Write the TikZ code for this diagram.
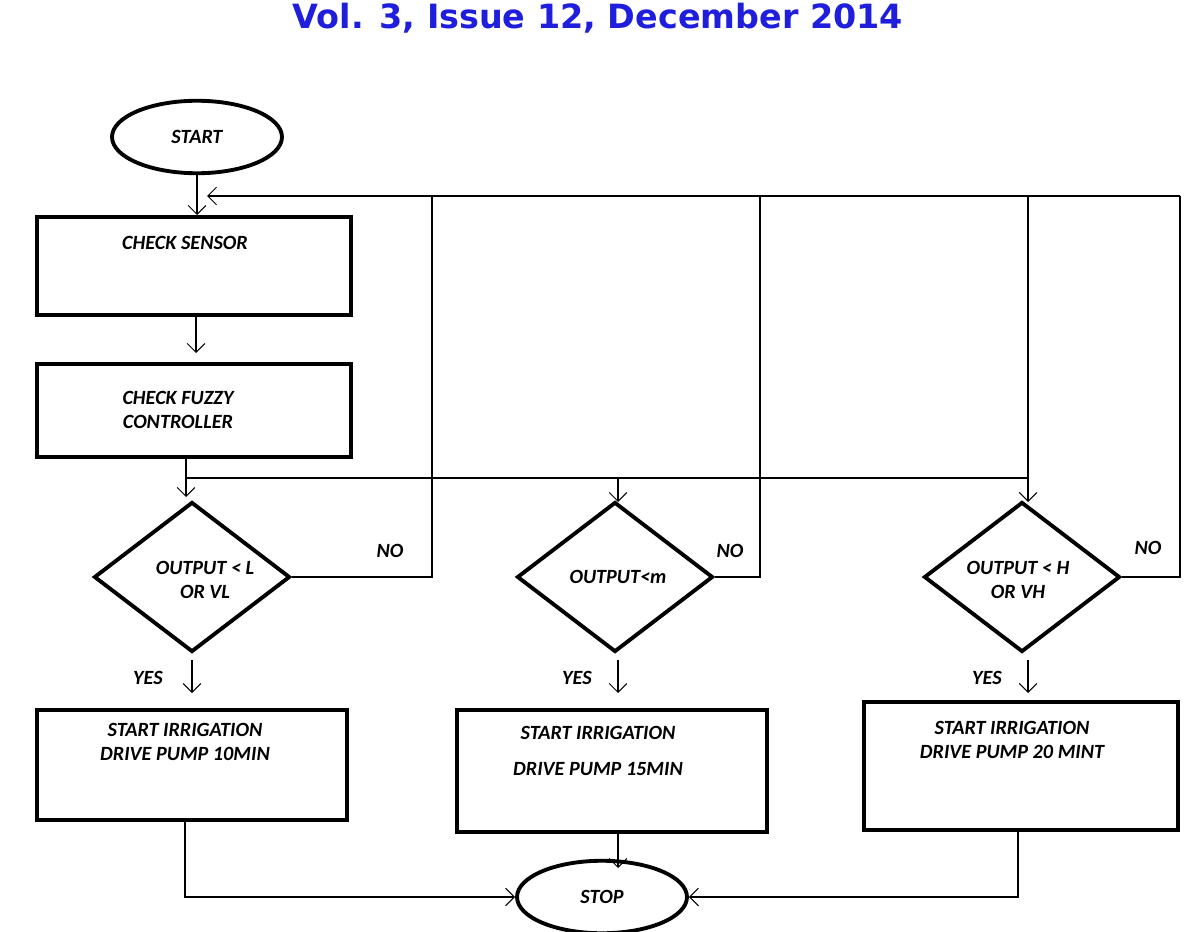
\documentclass[tikz,border=0pt]{standalone}
\usepackage{fontspec}
\setmainfont{Carlito}
\newfontfamily\headfont{DejaVu Sans}
\usetikzlibrary{shapes.geometric,arrows.meta}
\definecolor{headblue}{RGB}{30,30,220}
\tikzset{
	box/.style={draw=black, line width=2.2pt, rectangle, anchor=north west, inner sep=0pt},
	term/.style={draw=black, line width=2.2pt, ellipse, minimum width=3.4cm, minimum height=1.45cm, font=\fontsize{11.5}{13}\selectfont\bfseries\itshape},
	decide/.style={draw=black, line width=2.2pt, diamond, minimum width=3.92cm, minimum height=3cm, inner sep=0pt},
	lbl/.style={font=\fontsize{11.5}{14}\selectfont\bfseries\itshape, align=center},
	flow/.style={-{Straight Barb[length=5pt,width=10pt]}, line width=0.6pt},
	link/.style={line width=0.6pt},
}
\begin{document}
\begin{tikzpicture}[x=0.02cm, y=-0.02cm]
\useasboundingbox (0,0) rectangle (1196,932);
	\node[font=\headfont\fontsize{19}{21}\selectfont\bfseries, text=headblue] (head) at (598,18) {Vol. 3, Issue 12, December 2014};
	% terminals
	\node[term] (start) at (197,137) {START};
	\node[term] (stop) at (602,897) {STOP};
	% boxes
	\node[box, minimum width=6.28cm, minimum height=1.96cm] (sensor) at (35,215) {};
	\node[lbl] (sensortxt) at (185,243) {CHECK SENSOR};
	\node[box, minimum width=6.28cm, minimum height=1.86cm] (fuzzy) at (35,362) {};
	\node[lbl] (fuzzytxt) at (178,410) {CHECK FUZZY\\CONTROLLER};
	\node[box, minimum width=6.2cm, minimum height=2.2cm] (pumpa) at (35,708) {};
	\node[lbl] (pumpatxt) at (185,742) {START IRRIGATION\\DRIVE PUMP 10MIN};
	\node[box, minimum width=6.2cm, minimum height=2.44cm] (pumpb) at (455,708) {};
	\node[lbl, align=center] (pumpbtxt) at (598,751) {START IRRIGATION\\[6pt]DRIVE PUMP 15MIN};
	\node[box, minimum width=6.28cm, minimum height=2.56cm] (pumpc) at (862,700) {};
	\node[lbl] (pumpctxt) at (1012,740) {START IRRIGATION\\DRIVE PUMP 20 MINT};
	% decisions
	\node[decide] (dl) at (192,577) {};
	\node[lbl] (dltxt) at (205,580) {OUTPUT < L\\OR VL};
	\node[decide] (dm) at (615,577) {};
	\node[lbl] (dmtxt) at (618,577) {OUTPUT<m};
	\node[decide] (dh) at (1022,577) {};
	\node[lbl] (dhtxt) at (1018,580) {OUTPUT < H\\OR VH};
	\node[lbl] (nol) at (390,551) {NO};
	\node[lbl] (nom) at (730,551) {NO};
	\node[lbl] (noh) at (1148,548) {NO};
	\node[lbl] (yesl) at (148,678) {YES};
	\node[lbl] (yesm) at (577,678) {YES};
	\node[lbl] (yesh) at (987,678) {YES};
	% junctions
	\coordinate (ret) at (207,196);
	\coordinate (rl) at (432,196);
	\coordinate (rm) at (760,196);
	\coordinate (rh) at (1028,196);
	\coordinate (rr) at (1180,196);
	\coordinate (split) at (186,478);
	% main flow
	\draw[flow] (start.south) -- (start.south |- sensor.north);
	\draw[flow] (rr) -- (ret);
	\draw[flow] (196,313) -- (196,353);
	\draw[link] (186,455) -- (split) -- (1028,478);
	\draw[flow] (split) -- (186,497);
	\draw[flow] (618,478) -- (618,502);
	\draw[flow] (rh) -- (1028,502);
	% no branches
	\draw[link] (dl.east) -| (rl);
	\draw[link] (dm.east) -| (rm);
	\draw[link] (dh.east) -| (rr);
	% yes branches
	\draw[flow] (192,660) -- (192,693);
	\draw[flow] (618,660) -- (618,693);
	\draw[flow] (1028,660) -- (1028,693);
	\draw[flow] (618,830) -- (618,868);
	\draw[flow] (185,818) |- (stop.west);
	\draw[flow] (1018,828) |- (stop.east);
\end{tikzpicture}
\end{document}
